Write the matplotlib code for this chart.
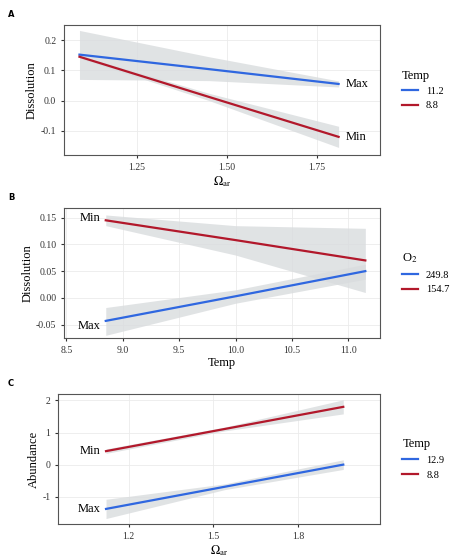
import matplotlib
matplotlib.use('Agg')
import matplotlib.pyplot as plt

plt.rcParams['font.family'] = ['Liberation Serif', 'DejaVu Serif']
plt.rcParams['mathtext.fontset'] = 'stix'

# panel A: dissolution vs omega_ar
a_x = [1.09, 1.45, 1.81]
a_hi = [0.152, 0.104, 0.055]
a_hi_lo = [0.070, 0.066, 0.045]
a_hi_up = [0.232, 0.145, 0.065]
a_lo = [0.145, 0.012, -0.120]
a_lo_lo = [0.140, 0.000, -0.155]
a_lo_up = [0.150, 0.024, -0.085]

# panel B: dissolution vs temp
b_x = [8.85, 10.0, 11.15]
b_min = [0.145, 0.108, 0.070]
b_min_lo = [0.135, 0.080, 0.010]
b_min_up = [0.155, 0.135, 0.130]
b_max = [-0.043, 0.003, 0.050]
b_max_lo = [-0.070, -0.010, 0.035]
b_max_up = [-0.018, 0.015, 0.063]

# panel C: abundance vs omega_ar
c_x = [1.12, 1.54, 1.96]
c_min = [0.42, 1.11, 1.80]
c_min_lo = [0.35, 1.05, 1.58]
c_min_up = [0.49, 1.17, 2.02]
c_max = [-1.38, -0.69, 0.00]
c_max_lo = [-1.68, -0.78, -0.15]
c_max_up = [-1.08, -0.60, 0.15]

BLUE = '#2f67e0'
RED = '#b2182b'
BAND = '#d9dcde'

fig = plt.figure(figsize=(4.74, 5.59), dpi=100)

def style(ax):
    ax.set_facecolor('white')
    ax.grid(True, color='#ebebeb', linewidth=0.6)
    for s in ax.spines.values():
        s.set_color('#555555')
        s.set_linewidth(0.8)
    ax.tick_params(labelsize=7, length=2, color='#333333', labelcolor='#333333')
    ax.set_axisbelow(True)

def panel(rect, letter, x, series, xlim, ylim, xticks, xlabels, yticks, ylabels,
          xlab, ylab, legtitle, leglabels, texts):
    ax = fig.add_axes(rect)
    style(ax)
    for (y, lo, up, c) in series:
        ax.fill_between(x, lo, up, color=BAND, alpha=0.8, linewidth=0)
    for (y, lo, up, c) in series:
        ax.plot(x, y, color=c, linewidth=1.6)
    for (tx, ty, t, ha) in texts:
        ax.text(tx, ty, t, fontsize=9, ha=ha, va='center')
    ax.set_xlim(xlim)
    ax.set_ylim(ylim)
    ax.set_xticks(xticks)
    ax.set_xticklabels(xlabels)
    ax.set_yticks(yticks)
    ax.set_yticklabels(ylabels)
    ax.set_xlabel(xlab, fontsize=9, labelpad=2)
    ax.set_ylabel(ylab, fontsize=9, labelpad=2)
    fig.text(8 / 474, rect[1] + rect[3] + 0.015, letter, fontsize=6,
             fontweight='bold', family='DejaVu Sans')
    h = [plt.Line2D([], [], color=BLUE, lw=1.6), plt.Line2D([], [], color=RED, lw=1.6)]
    leg = ax.legend(h, leglabels, title=legtitle, loc='center left',
                    bbox_to_anchor=(1.04, 0.5), frameon=False, fontsize=7.5,
                    title_fontsize=9, handlelength=1.5)
    leg._legend_box.align = 'left'
    return ax

W, H = 474, 559
def r(x0, y0, x1, y1):
    return [x0 / W, 1 - y1 / H, (x1 - x0) / W, (y1 - y0) / H]

panel(r(64, 25, 380, 155), 'A', a_x,
      [(a_hi, a_hi_lo, a_hi_up, BLUE), (a_lo, a_lo_lo, a_lo_up, RED)],
      (1.047, 1.925), (-0.18, 0.25), [1.25, 1.50, 1.75], ['1.25', '1.50', '1.75'],
      [-0.1, 0.0, 0.1, 0.2], ['-0.1', '0.0', '0.1', '0.2'],
      r'$\Omega_{\rm ar}$', 'Dissolution', 'Temp', ['11.2', '8.8'],
      [(1.83, 0.055, 'Max', 'left'), (1.83, -0.12, 'Min', 'left')])

panel(r(64, 208, 380, 338), 'B', b_x,
      [(b_min, b_min_lo, b_min_up, RED), (b_max, b_max_lo, b_max_up, BLUE)],
      (8.48, 11.28), (-0.075, 0.168), [8.5, 9.0, 9.5, 10.0, 10.5, 11.0],
      ['8.5', '9.0', '9.5', '10.0', '10.5', '11.0'],
      [-0.05, 0.0, 0.05, 0.10, 0.15], ['-0.05', '0.00', '0.05', '0.10', '0.15'],
      'Temp', 'Dissolution', r'O$_2$', ['249.8', '154.7'],
      [(8.8, 0.15, 'Min', 'right'), (8.8, -0.052, 'Max', 'right')])

panel(r(58, 394, 380, 524), 'C', c_x,
      [(c_min, c_min_lo, c_min_up, RED), (c_max, c_max_lo, c_max_up, BLUE)],
      (0.95, 2.09), (-1.85, 2.2), [1.2, 1.5, 1.8], ['1.2', '1.5', '1.8'],
      [-1, 0, 1, 2], ['-1', '0', '1', '2'],
      r'$\Omega_{\rm ar}$', 'Abundance', 'Temp', ['12.9', '8.8'],
      [(1.1, 0.42, 'Min', 'right'), (1.1, -1.38, 'Max', 'right')])

fig.savefig('out.png', dpi=100)
